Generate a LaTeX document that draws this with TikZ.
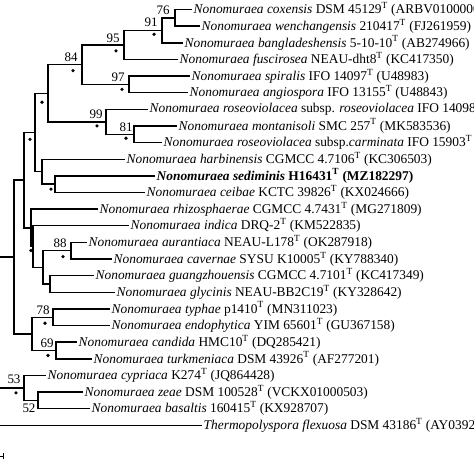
\documentclass[tikz,border=0pt]{standalone}
\usepackage{fontspec}
\setmainfont{Liberation Serif}
\usetikzlibrary{calc}

\begin{document}
\begin{tikzpicture}[
  x=1pt, y=-1pt,
  taxon/.style={anchor=west, inner sep=1.5pt, font=\fontsize{13.4}{15}\selectfont},
  rama/.style={line width=1.4pt},
  boot/.style={inner sep=0pt, font=\fontsize{13}{14}\selectfont},
  punto/.style={circle, fill, inner sep=0pt, minimum size=3.6pt}
]
  \useasboundingbox (0,0) rectangle (474,474);
  \clip (0,0) rectangle (474,474);

  % taxa
  \node[taxon] (coxensis) at (192,9.5) {\textit{Nonomuraea coxensis} DSM 45129\textsuperscript{T} (ARBV01000009)};
  \node[taxon] (wenchang) at (200,26.1) {\textit{Nonomuraea wenchangensis} 210417\textsuperscript{T} (FJ261959)};
  \node[taxon] (bangla) at (183,42.8) {\textit{Nonomuraea bangladeshensis} 5-10-10\textsuperscript{T} (AB274966)};
  \node[taxon] (fuscir) at (178,59.4) {\textit{Nonomuraea fuscirosea} NEAU-dht8\textsuperscript{T} (KC417350)};
  \node[taxon] (spiralis) at (190,76) {\textit{Nonomuraea spiralis} IFO 14097\textsuperscript{T} (U48983)};
  \node[taxon] (angio) at (188,92.7) {\textit{Nonomuraea angiospora} IFO 13155\textsuperscript{T} (U48843)};
  \node[taxon] (roseo) at (148,109.3) {\textit{Nonomuraea roseoviolacea} subsp. \textit{roseoviolacea} IFO 14098};
  \node[taxon] (montan) at (177,125.9) {\textit{Nonomuraea montanisoli} SMC 257\textsuperscript{T} (MK583536)};
  \node[taxon] (carmin) at (162,142.5) {\textit{Nonomuraea roseoviolacea} subsp.\textit{carminata} IFO 15903\textsuperscript{T}};
  \node[taxon] (harbin) at (125,159.2) {\textit{Nonomuraea harbinensis} CGMCC 4.7106\textsuperscript{T} (KC306503)};
  \node[taxon] (sedim) at (155,175.8) {\bfseries\textit{Nonomuraea sediminis} H16431\textsuperscript{T} (MZ182297)};
  \node[taxon] (ceibae) at (145,192.4) {\textit{Nonomuraea ceibae} KCTC 39826\textsuperscript{T} (KX024666)};
  \node[taxon] (rhizo) at (98,209.1) {\textit{Nonomuraea rhizosphaerae} CGMCC 4.7431\textsuperscript{T} (MG271809)};
  \node[taxon] (indica) at (129,225.7) {\textit{Nonomuraea indica} DRQ-2\textsuperscript{T} (KM522835)};
  \node[taxon] (auran) at (87,242.3) {\textit{Nonomuraea aurantiaca} NEAU-L178\textsuperscript{T} (OK287918)};
  \node[taxon] (cavern) at (112,259) {\textit{Nonomuraea cavernae} SYSU K10005\textsuperscript{T} (KY788340)};
  \node[taxon] (guangz) at (94,275.6) {\textit{Nonomuraea guangzhouensis} CGMCC 4.7101\textsuperscript{T} (KC417349)};
  \node[taxon] (glycin) at (115,292.2) {\textit{Nonomuraea glycinis} NEAU-BB2C19\textsuperscript{T} (KY328642)};
  \node[taxon] (typhae) at (110,308.9) {\textit{Nonomuraea typhae} p1410\textsuperscript{T} (MN311023)};
  \node[taxon] (endoph) at (110,325.5) {\textit{Nonomuraea endophytica} YIM 65601\textsuperscript{T} (GU367158)};
  \node[taxon] (candida) at (77,342.1) {\textit{Nonomuraea candida} HMC10\textsuperscript{T} (DQ285421)};
  \node[taxon] (turkmen) at (92,358.8) {\textit{Nonomuraea turkmeniaca} DSM 43926\textsuperscript{T} (AF277201)};
  \node[taxon] (cypri) at (46,375.4) {\textit{Nonomuraea cypriaca} K274\textsuperscript{T} (JQ864428)};
  \node[taxon] (zeae) at (83,392) {\textit{Nonomuraea zeae} DSM 100528\textsuperscript{T} (VCKX01000503)};
  \node[taxon] (basalt) at (90,408.7) {\textit{Nonomuraea basaltis} 160415\textsuperscript{T} (KX928707)};
  \node[taxon] (flexuosa) at (202,425.3) {\textit{Thermopolyspora flexuosa} DSM 43186\textsuperscript{T} (AY0392};

  % internal nodes
  \coordinate (nA) at (175,17.8);
  \coordinate (nB) at (162,30.3);
  \coordinate (nC) at (124,44.9);
  \coordinate (nD) at (129,84.3);
  \coordinate (nE) at (82,64.6);
  \coordinate (nF) at (134,134.2);
  \coordinate (nG) at (106,121.8);
  \coordinate (nH) at (48,93.2);
  \coordinate (nI) at (55,184.1);
  \coordinate (nJ) at (42,171.6);
  \coordinate (nK) at (35,132.4);
  \coordinate (nN) at (71,250.6);
  \coordinate (nO) at (50,283.9);
  \coordinate (nP) at (43,267.3);
  \coordinate (nQ) at (33,246.5);
  \coordinate (nR) at (31,227.8);
  \coordinate (nL) at (24,180.1);
  \coordinate (nS) at (53,317.2);
  \coordinate (nU) at (56,350.5);
  \coordinate (nT) at (32,333.8);
  \coordinate (nV) at (14,257);
  \coordinate (nW) at (38,400.3);
  \coordinate (nX) at (24,387.9);
  \coordinate (ingr) at (-3,322.4);
  \coordinate (raiz) at (-6,373.9);

  % branches
  \draw[rama] (nA) |- (coxensis.west);
  \draw[rama] (nA) |- (wenchang.west);
  \draw[rama] (nB) |- (nA);
  \draw[rama] (nB) |- (bangla.west);
  \draw[rama] (nC) |- (nB);
  \draw[rama] (nC) |- (fuscir.west);
  \draw[rama] (nD) |- (spiralis.west);
  \draw[rama] (nD) |- (angio.west);
  \draw[rama] (nE) |- (nC);
  \draw[rama] (nE) |- (nD);
  \draw[rama] (nF) |- (montan.west);
  \draw[rama] (nF) |- (carmin.west);
  \draw[rama] (nG) |- (roseo.west);
  \draw[rama] (nG) |- (nF);
  \draw[rama] (nH) |- (nE);
  \draw[rama] (nH) |- (nG);
  \draw[rama] (nI) |- (sedim.west);
  \draw[rama] (nI) |- (ceibae.west);
  \draw[rama] (nJ) |- (harbin.west);
  \draw[rama] (nJ) |- (nI);
  \draw[rama] (nK) |- (nH);
  \draw[rama] (nK) |- (nJ);
  \draw[rama] (nN) |- (auran.west);
  \draw[rama] (nN) |- (cavern.west);
  \draw[rama] (nO) |- (guangz.west);
  \draw[rama] (nO) |- (glycin.west);
  \draw[rama] (nP) |- (nN);
  \draw[rama] (nP) |- (nO);
  \draw[rama] (nQ) |- (indica.west);
  \draw[rama] (nQ) |- (nP);
  \draw[rama] (nR) |- (rhizo.west);
  \draw[rama] (nR) |- (nQ);
  \draw[rama] (nL) |- (nK);
  \draw[rama] (nL) |- (nR);
  \draw[rama] (nS) |- (typhae.west);
  \draw[rama] (nS) |- (endoph.west);
  \draw[rama] (nU) |- (candida.west);
  \draw[rama] (nU) |- (turkmen.west);
  \draw[rama] (nT) |- (nS);
  \draw[rama] (nT) |- (nU);
  \draw[rama] (nV) |- (nL);
  \draw[rama] (nV) |- (nT);
  \draw[rama] (nW) |- (zeae.west);
  \draw[rama] (nW) |- (basalt.west);
  \draw[rama] (nX) |- (cypri.west);
  \draw[rama] (nX) |- (nW);
  \draw[rama] (ingr) |- (nV);
  \draw[rama] (ingr) |- (nX);
  \draw[rama] (raiz) |- (ingr);
  \draw[rama] (raiz) |- (flexuosa.west);

  % bootstrap values
  \node[boot] (b76) at ($(nA)+(-12,-8)$) {76};
  \node[boot] (b91) at ($(nB)+(-11,-8)$) {91};
  \node[boot] (b95) at ($(nC)+(-11,-7)$) {95};
  \node[boot] (b97) at ($(nD)+(-11,-7)$) {97};
  \node[boot] (b84) at ($(nE)+(-11,-7)$) {84};
  \node[boot] (b99) at ($(nG)+(-10,-8)$) {99};
  \node[boot] (b81) at ($(nF)+(-8,-7)$) {81};
  \node[boot] (b88) at ($(nN)+(-11,-7)$) {88};
  \node[boot] (b78) at ($(nS)+(-10,-7)$) {78};
  \node[boot] (b69) at ($(nU)+(-9,-7)$) {69};
  \node[boot] (b53) at ($(nX)+(-10,-9)$) {53};
  \node[boot] (b52) at ($(nW)+(-9,8)$) {52};

  % filled circles
  \node[punto] (pB) at ($(nB)+(-8,4)$) {};
  \node[punto] (pC) at ($(nC)+(-8,6)$) {};
  \node[punto] (pD) at ($(nD)+(-7,5)$) {};
  \node[punto] (pE) at ($(nE)+(-9,6)$) {};
  \node[punto] (pF) at ($(nF)+(-8,4)$) {};
  \node[punto] (pG) at ($(nG)+(-9,4)$) {};
  \node[punto] (pH) at ($(nH)+(-6,9)$) {};
  \node[punto] (pI) at ($(nI)+(-4,5)$) {};
  \node[punto] (pK) at ($(nK)+(-5,7)$) {};
  \node[punto] (pQ) at ($(nQ)+(-2,4)$) {};
  \node[punto] (pN) at ($(nN)+(-8,6)$) {};
  \node[punto] (pS) at ($(nS)+(-8,6)$) {};
  \node[punto] (pU) at ($(nU)+(-8,5)$) {};
  \node[punto] (pX) at ($(nX)+(-8,5)$) {};

  % scale bar
  \coordinate (esc1) at (-20,456);
  \coordinate (esc2) at (3,456);
  \draw[line width=1pt] (esc1) -- (esc2);
  \draw[line width=1pt] ($(esc2)+(0,-3)$) -- ($(esc2)+(0,3)$);
\end{tikzpicture}
\end{document}
